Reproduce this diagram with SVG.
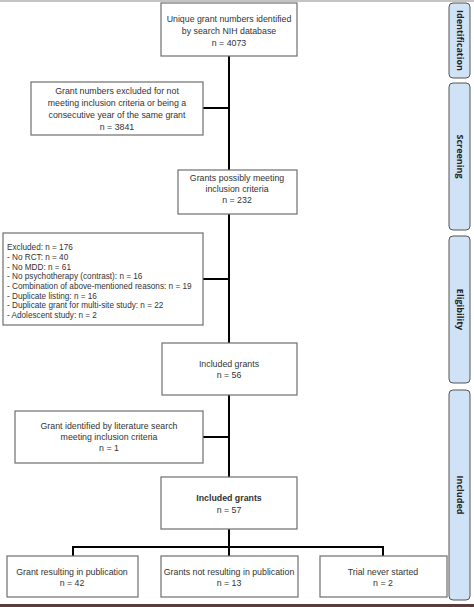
<svg xmlns="http://www.w3.org/2000/svg" width="474" height="607" viewBox="0 0 474 607">
<style>
.box{fill:#fff;stroke:#6e6e6e;stroke-width:1.2}
.t{font-family:"Liberation Sans",Arial,sans-serif;font-size:8.8px;fill:#333;text-anchor:middle}
.tl{font-family:"Liberation Sans",Arial,sans-serif;font-size:8.2px;fill:#333}
.tab{fill:#cfe2f6;stroke:#555;stroke-width:1}
.tt{font-family:"Open Sans","Liberation Sans",sans-serif;font-size:9px;font-weight:bold;fill:#222;text-anchor:middle}
.c{stroke:#000;stroke-width:2;fill:none}
</style>
<rect x="0" y="0" width="474" height="607" fill="#fff"/>
<rect x="0" y="0" width="474" height="2" fill="#c4c4c4"/>
<rect x="0" y="604" width="474" height="3" fill="#5b3b3b"/>
<g id="connectors">
<path class="c" d="M229 56V477"/>
<path class="c" d="M203 108H229"/>
<path class="c" d="M203 279H229"/>
<path class="c" d="M203 437H229"/>
<path class="c" d="M229 529V556"/>
<path class="c" d="M73 556V547H383V556"/>
</g>
<g id="n1"><rect class="box" x="161" y="3" width="136" height="53"/>
<text class="t" x="229" y="22">Unique grant numbers identified</text>
<text class="t" x="229" y="34">by search NIH database</text>
<text class="t" x="229" y="46">n = 4073</text></g>
<g id="n2"><rect class="box" x="31" y="82" width="172" height="53"/>
<text class="t" x="117" y="94">Grant numbers excluded for not</text>
<text class="t" x="117" y="106">meeting inclusion criteria or being a</text>
<text class="t" x="117" y="118">consecutive year of the same grant</text>
<text class="t" x="117" y="130">n = 3841</text></g>
<g id="n3"><rect class="box" x="178" y="170" width="119" height="44"/>
<text class="t" x="237" y="181">Grants possibly meeting</text>
<text class="t" x="237" y="192">inclusion criteria</text>
<text class="t" x="237" y="203">n = 232</text></g>
<g id="n4"><rect class="box" x="3" y="233" width="200" height="92"/>
<text class="tl" x="7" y="250">Excluded: n = 176</text>
<text class="tl" x="7" y="260">- No RCT: n = 40</text>
<text class="tl" x="7" y="270">- No MDD: n = 61</text>
<text class="tl" x="7" y="279">- No psychotherapy (contrast): n = 16</text>
<text class="tl" x="7" y="289">- Combination of above-mentioned reasons: n = 19</text>
<text class="tl" x="7" y="299">- Duplicate listing: n = 16</text>
<text class="tl" x="7" y="308">- Duplicate grant for multi-site study: n = 22</text>
<text class="tl" x="7" y="318">- Adolescent study: n = 2</text></g>
<g id="n5"><rect class="box" x="162" y="343" width="135" height="52"/>
<text class="t" x="229" y="367">Included grants</text>
<text class="t" x="229" y="378">n = 56</text></g>
<g id="n6"><rect class="box" x="15" y="411" width="188" height="52"/>
<text class="t" x="109" y="429">Grant identified by literature search</text>
<text class="t" x="109" y="440">meeting inclusion criteria</text>
<text class="t" x="109" y="451">n = 1</text></g>
<g id="n7"><rect class="box" x="161" y="477" width="136" height="52"/>
<text class="t" x="229" y="501" font-weight="bold" fill="#111">Included grants</text>
<text class="t" x="229" y="513">n = 57</text></g>
<g id="n8"><rect class="box" x="7" y="556" width="131" height="41"/>
<text class="t" x="72" y="575">Grant resulting in publication</text>
<text class="t" x="72" y="586">n = 42</text></g>
<g id="n9"><rect class="box" x="161" y="556" width="137" height="41"/>
<text class="t" x="229" y="575">Grants not resulting in publication</text>
<text class="t" x="229" y="586">n = 13</text></g>
<g id="n10"><rect class="box" x="320" y="556" width="127" height="41"/>
<text class="t" x="383" y="575">Trial never started</text>
<text class="t" x="383" y="586">n = 2</text></g>
<g id="tab1"><rect class="tab" x="449" y="3" width="21" height="75" rx="4"/>
<text class="tt" transform="translate(456.5 40.5) rotate(90)">Identification</text></g>
<g id="tab2"><rect class="tab" x="449" y="83" width="21" height="147" rx="4"/>
<text class="tt" transform="translate(456.5 156.5) rotate(90)">Screening</text></g>
<g id="tab3"><rect class="tab" x="449" y="236" width="21" height="147" rx="4"/>
<text class="tt" transform="translate(456.5 309.5) rotate(90)">Eligibility</text></g>
<g id="tab4"><rect class="tab" x="449" y="390" width="21" height="210" rx="4"/>
<text class="tt" transform="translate(456.5 495) rotate(90)">Included</text></g>
</svg>
